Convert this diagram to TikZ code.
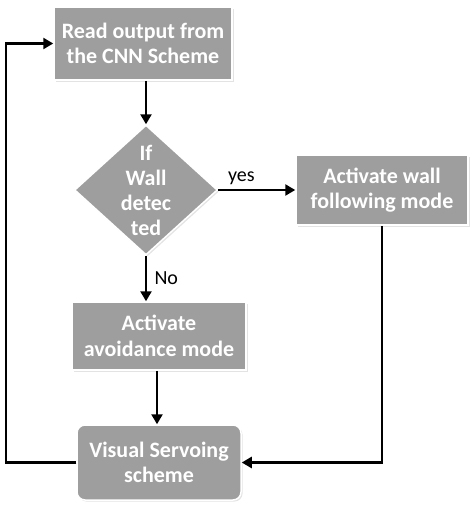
\documentclass[tikz,border=0pt]{standalone}
\usepackage{fontspec}
\setmainfont{Carlito}
\usetikzlibrary{arrows.meta,shapes.geometric,shadows}
\definecolor{boxgray}{RGB}{158,158,158}
\begin{document}
\begin{tikzpicture}[x=1pt,y=-1pt,
  boxstyle/.style={fill=boxgray, draw=white, line width=1.5pt, text=white,
    font=\bfseries\fontsize{22}{25.5}\selectfont, align=center, inner sep=0pt,
    drop shadow={fill=black!22, shadow xshift=1.5pt, shadow yshift=-1.5pt}},
  conn/.style={line width=2.4pt, -{Triangle[length=10pt,width=11pt]}},
  lbl/.style={font=\fontsize{20}{22}\selectfont}]
\useasboundingbox (0,0) rectangle (474,509);
\node[boxstyle, minimum width=178pt, minimum height=73pt] (read) at (143,43.5) {Read output from\\the CNN Scheme};
\node[boxstyle, diamond, minimum width=143pt, minimum height=130pt, aspect=1.1, inner sep=-16pt,
  font=\bfseries\fontsize{22}{25}\selectfont] (dec) at (146,190) {If\\Wall\\detec\\ted};
\node[boxstyle, minimum width=172pt, minimum height=70pt] (wall) at (382,190) {Activate wall\\following mode};
\node[boxstyle, minimum width=174pt, minimum height=68pt] (avoid) at (159,336) {Activate\\avoidance mode};
\node[boxstyle, rounded corners=8pt, minimum width=164pt, minimum height=75pt] (vs) at (159,462.5) {Visual Servoing\\scheme};
\draw[conn] (read.south -| dec.north) -- (dec.north);
\draw[conn] (dec.east) -- (wall.west) node[lbl, pos=0.3, above=1pt] {yes};
\draw[conn] (dec.south) -- (dec.south |- avoid.north) node[lbl, midway, right=4pt] {No};
\draw[conn] (avoid.south -| 157,0) -- (vs.north -| 157,0);
\draw[conn] (wall.south) |- (vs.east);
\draw[conn] (vs.west) -- (6,462.5) |- (read.west);
\end{tikzpicture}
\end{document}
